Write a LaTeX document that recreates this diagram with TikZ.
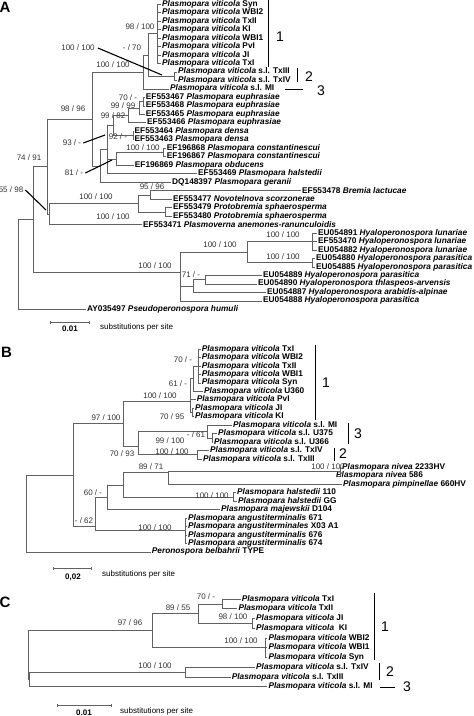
\documentclass[tikz,border=0pt]{standalone}
\usepackage{fontspec}
\setmainfont{Liberation Sans}
\definecolor{ln}{gray}{0.38}
\newcommand{\pv}{\textit{Plasmopara viticola}}
\newcommand{\pp}[1]{\textit{Plasmopara #1}}
\newcommand{\hy}[1]{\textit{Hyaloperonospora #1}}
\begin{document}
\begin{tikzpicture}[x=1pt,y=-1pt,
 br/.style={draw=ln, line width=0.6pt},
 lv/.style={draw=ln, line width=0.6pt, shorten >=1pt},
 lf/.style={anchor=west, inner sep=0pt, font=\bfseries\fontsize{8.3}{9}\selectfont},
 sup/.style={inner sep=0pt, font=\fontsize{8}{9}\selectfont, text=black!80},
 lead/.style={draw=black, line width=1.1pt},
 cl/.style={inner sep=0pt, font=\fontsize{14}{14}\selectfont},
 bar/.style={draw=black, line width=1pt},
 pl/.style={inner sep=0pt, font=\bfseries\fontsize{15}{15}\selectfont},
 sc/.style={inner sep=0pt, font=\fontsize{8}{9}\selectfont},
 scn/.style={inner sep=0pt, font=\bfseries\fontsize{8}{9}\selectfont}]
\useasboundingbox (0,0) rectangle (474,716);
\fill[white] (0,0) rectangle (474,716);

% ================= PANEL A =================
\node[pl] (PA) at (5,7.5) {A};
\node[lf] (a1) at (162,4.0) {\pv{} Syn};
\node[lf] (a2) at (162,12.5) {\pv{} WBI2};
\node[lf] (a3) at (162,21.0) {\pv{} TxII};
\node[lf] (a4) at (162,29.4) {\pv{} KI};
\node[lf] (a5) at (162,37.9) {\pv{} WBI1};
\node[lf] (a6) at (162,46.4) {\pv{} PvI};
\node[lf] (a7) at (162,54.9) {\pv{} JI};
\node[lf] (a8) at (162,63.4) {\pv{} TxI};
\node[lf] (a9) at (178,71.8) {\pv{} s.l. TxIII};
\node[lf] (a10) at (178,80.3) {\pv{} s.l. TxIV};
\node[lf] (a11) at (170,88.8) {\pv{} s.l. MI};
\node[lf] (a12) at (145.7,97.3) {EF553467 \pp{euphrasiae}};
\node[lf] (a13) at (145.7,105.8) {EF553468 \pp{euphrasiae}};
\node[lf] (a14) at (145.7,114.2) {EF553465 \pp{euphrasiae}};
\node[lf] (a15) at (147,122.7) {EF553466 \pp{euphrasiae}};
\node[lf] (a16) at (134.5,131.2) {EF553464 \pp{densa}};
\node[lf] (a17) at (134.5,139.7) {EF553463 \pp{densa}};
\node[lf] (a18) at (166.7,148.2) {EF196868 \pp{constantinescui}};
\node[lf] (a19) at (166.7,156.6) {EF196867 \pp{constantinescui}};
\node[lf] (a20) at (134.7,165.1) {EF196869 \pp{obducens}};
\node[lf] (a21) at (198,173.6) {EF553469 \pp{halstedii}};
\node[lf] (a22) at (172,182.1) {DQ148397 \pp{geranii}};
\node[lf] (a23) at (302,190.6) {EF553478 \textit{Bremia lactucae}};
\node[lf] (a24) at (173,199.0) {EF553477 \textit{Novotelnova scorzonerae}};
\node[lf] (a25) at (173,207.5) {EF553479 \textit{Protobremia sphaerosperma}};
\node[lf] (a26) at (173,216.0) {EF553480 \textit{Protobremia sphaerosperma}};
\node[lf] (a27) at (143,224.5) {EF553471 \textit{Plasmoverna anemones-ranunculoidis}};
\node[lf] (a28) at (318,233.0) {EU054891 \hy{lunariae}};
\node[lf] (a29) at (318,241.4) {EF553470 \hy{lunariae}};
\node[lf] (a30) at (318,249.9) {EU054882 \hy{lunariae}};
\node[lf] (a31) at (316,258.4) {EU054880 \hy{parasitica}};
\node[lf] (a32) at (316,266.9) {EU054885 \hy{parasitica}};
\node[lf] (a33) at (263,275.4) {EU054889 \hy{parasitica}};
\node[lf] (a34) at (258,283.8) {EU054890 \hy{thlaspeos-arvensis}};
\node[lf] (a35) at (267,292.3) {EU054887 \hy{arabidis-alpinae}};
\node[lf] (a36) at (263,300.8) {EU054888 \hy{parasitica}};
\node[lf] (a37) at (87,309.3) {AY035497 \textit{Pseudoperonospora humuli}};

\coordinate (V98) at (157,33.7);
\coordinate (V23) at (174,76.05);
\coordinate (Vm70) at (148,54.9);
\coordinate (V100) at (143,71.8);
\coordinate (e70) at (143,101.5);
\coordinate (e99) at (139,107.9);
\coordinate (e9982) at (128,115.3);
\coordinate (dens) at (133,135.4);
\coordinate (E) at (113,125.4);
\coordinate (cons) at (163,152.4);
\coordinate (F) at (116,158.8);
\coordinate (Q2) at (107,149.5);
\coordinate (Q) at (100,165.8);
\coordinate (N9896) at (92,118.8);
\coordinate (b95) at (150,194.8);
\coordinate (proto) at (165,211.8);
\coordinate (b100) at (138,203.3);
\coordinate (N55) at (49,213.9);
\coordinate (N74) at (47,166.3);
\coordinate (lun) at (312,241.4);
\coordinate (par) at (312,262.7);
\coordinate (Hsub) at (247,252);
\coordinate (h71) at (205,279.6);
\coordinate (X) at (193,286);
\coordinate (H) at (180,272);
\coordinate (N1) at (33,219.2);
\coordinate (R) at (18,264.2);

\foreach \c in {a1,a2,a3,a4,a5,a6,a7,a8} \draw[lv] (V98) |- (\c.west);
\foreach \c in {a9,a10} \draw[lv] (V23) |- (\c.west);
\draw[br] (Vm70) |- (V98); \draw[br] (Vm70) |- (V23);
\draw[br] (V100) |- (Vm70); \draw[lv] (V100) |- (a11.west);
\foreach \c in {a12,a13} \draw[lv] (e70) |- (\c.west);
\draw[br] (e99) |- (e70); \draw[lv] (e99) |- (a14.west);
\draw[br] (e9982) |- (e99); \draw[lv] (e9982) |- (a15.west);
\foreach \c in {a16,a17} \draw[lv] (dens) |- (\c.west);
\draw[br] (E) |- (e9982); \draw[br] (E) |- (dens);
\foreach \c in {a18,a19} \draw[lv] (cons) |- (\c.west);
\draw[br] (F) |- (cons); \draw[lv] (F) |- (a20.west);
\draw[br] (Q2) |- (E); \draw[br] (Q2) |- (F); \draw[lv] (Q2) |- (a21.west);
\draw[br] (Q) |- (Q2); \draw[lv] (Q) |- (a22.west);
\draw[br] (N9896) |- (V100); \draw[br] (N9896) |- (Q);
\foreach \c in {a23,a24} \draw[lv] (b95) |- (\c.west);
\foreach \c in {a25,a26} \draw[lv] (proto) |- (\c.west);
\draw[br] (b100) |- (b95); \draw[br] (b100) |- (proto);
\draw[br] (N55) |- (b100); \draw[lv] (N55) |- (a27.west);
\draw[br] (N74) |- (N9896); \draw[br] (N74) |- (N55);
\foreach \c in {a28,a29,a30} \draw[lv] (lun) |- (\c.west);
\foreach \c in {a31,a32} \draw[lv] (par) |- (\c.west);
\draw[br] (Hsub) |- (lun); \draw[br] (Hsub) |- (par);
\foreach \c in {a33,a34} \draw[lv] (h71) |- (\c.west);
\draw[br] (X) |- (h71); \draw[lv] (X) |- (a35.west);
\draw[br] (H) |- (Hsub); \draw[br] (H) |- (X); \draw[lv] (H) |- (a36.west);
\draw[br] (N1) |- (N74); \draw[br] (N1) |- (H);
\draw[br] (R) |- (N1); \draw[lv] (R) |- (a37.west);

\node[sup] (sA1) at (140,27) {98 / 100};
\node[sup] (sA2) at (132,48) {- / 70};
\node[sup] (sA3) at (78,48) {100 / 100};
\node[sup] (sA4) at (113,65) {100 / 100};
\node[sup] (sA5) at (128,98) {70 / -};
\node[sup] (sA6) at (123,106) {99 / 99};
\node[sup] (sA7) at (113,116) {99 / 82};
\node[sup] (sA8) at (73,109) {98 / 96};
\node[sup] (sA9) at (118,137) {92 / -};
\node[sup] (sA10) at (72,143) {93 / -};
\node[sup] (sA11) at (143,147.5) {100 / 100};
\node[sup] (sA12) at (29,158) {74 / 91};
\node[sup] (sA13) at (74,173) {81 / -};
\node[sup] (sA14) at (11,190) {55 / 98};
\node[sup] (sA15) at (152,187) {95 / 96};
\node[sup] (sA16) at (96,197) {100 / 100};
\node[sup] (sA17) at (113,217) {100 / 100};
\node[sup] (sA18) at (155,266) {100 / 100};
\node[sup] (sA19) at (220,245) {100 / 100};
\node[sup] (sA20) at (283,235) {100 / 100};
\node[sup] (sA21) at (283,257) {100 / 100};
\node[sup] (sA22) at (191,275) {71 / -};
\coordinate (tA3) at (162,75);
\coordinate (tA10) at (105,135);
\coordinate (tA13) at (112,160);
\coordinate (tA14) at (46,210);
\draw[lead] ([xshift=3pt]sA3.east) -- (tA3);
\draw[lead] ([xshift=2pt]sA10.east) -- (tA10);
\draw[lead] ([xshift=2pt]sA13.east) -- (tA13);
\draw[lead] ([xshift=2pt]sA14.east) -- (tA14);

\coordinate (k1a) at (268,0); \coordinate (k1b) at (268,67);
\draw[bar] (k1a) -- (k1b); \node[cl] (kA1) at (280,37) {1};
\coordinate (k2a) at (297,68); \coordinate (k2b) at (297,82);
\draw[bar] (k2a) -- (k2b); \node[cl] (kA2) at (309,77) {2};
\coordinate (k3a) at (285,89); \coordinate (k3b) at (303,89);
\draw[bar] (k3a) -- (k3b); \node[cl] (kA3) at (321,91) {3};

\coordinate (sa1) at (50,322); \coordinate (sa2) at (89,322);
\draw[br] (sa1) -- (sa2);
\draw[br] ([yshift=-1.5pt]sa1) -- ([yshift=1.5pt]sa1);
\draw[br] ([yshift=-1.5pt]sa2) -- ([yshift=1.5pt]sa2);
\node[scn] (saN) at (70,329) {0.01};
\node[sc,anchor=west] (saT) at (100,327) {substitutions per site};

% ================= PANEL B =================
\node[pl] (PB) at (6.5,352) {B};
\node[lf] (b0) at (201.7,349.0) {\pv{} TxI};
\node[lf] (b1) at (201.7,357.5) {\pv{} WBI2};
\node[lf] (b2) at (201.7,365.9) {\pv{} TxII};
\node[lf] (b3) at (201.7,374.4) {\pv{} WBI1};
\node[lf] (b4) at (201.7,382.8) {\pv{} Syn};
\node[lf] (b5) at (204,391.3) {\pv{} U360};
\node[lf] (b6) at (196.7,399.7) {\pv{} PvI};
\node[lf] (b7) at (195,408.2) {\pv{} JI};
\node[lf] (b8) at (195,416.6) {\pv{} KI};
\node[lf] (b9) at (233,425.1) {\pv{} s.l. MI};
\node[lf] (b10) at (218,433.5) {\pv{} s.l. U375};
\node[lf] (b11) at (214,442.0) {\pv{} s.l. U366};
\node[lf] (b12) at (210,450.4) {\pv{} s.l. TxIV};
\node[lf] (b13) at (203,458.9) {\pv{} s.l. TxIII};
\node[lf] (b14) at (342,467.3) {\pp{nivea} 2233HV};
\node[lf] (b15) at (336,475.8) {\pp{nivea} 586};
\node[lf] (b16) at (343,484.2) {\pp{pimpinellae} 660HV};
\node[lf] (b17) at (237,492.7) {\pp{halstedii} 110};
\node[lf] (b18) at (238,501.1) {\pp{halstedii} GG};
\node[lf] (b19) at (221,509.6) {\pp{majewskii} D104};
\node[lf] (b20) at (188,518.0) {\pp{angustiterminalis} 671};
\node[lf] (b21) at (188,526.5) {\pp{angustiterminales} X03 A1};
\node[lf] (b22) at (188,534.9) {\pp{angustiterminalis} 676};
\node[lf] (b23) at (188,543.4) {\pp{angustiterminalis} 674};
\node[lf] (b24) at (151.7,551.8) {\textit{Peronospora belbahrii} TYPE};

\coordinate (B70) at (198,365.9);
\coordinate (B61) at (193,378.6);
\coordinate (B7095) at (192,412.4);
\coordinate (B100) at (190,401);
\coordinate (Bm61) at (212,437.8);
\coordinate (B3) at (207,431.4);
\coordinate (B23) at (197,454.7);
\coordinate (B7093) at (138,446);
\coordinate (B97) at (123,423.5);
\coordinate (Bniv) at (340,471.6);
\coordinate (B89) at (168,472.5);
\coordinate (Bhal) at (233,496.9);
\coordinate (Bx) at (123,485);
\coordinate (B60) at (107,497.3);
\coordinate (Bang) at (185,530.7);
\coordinate (B62) at (95,526);
\coordinate (B73) at (73,474.8);
\coordinate (Broot) at (26,513.3);

\foreach \c in {b0,b1,b2,b3,b4} \draw[lv] (B70) |- (\c.west);
\draw[br] (B61) |- (B70); \draw[lv] (B61) |- (b5.west);
\foreach \c in {b7,b8} \draw[lv] (B7095) |- (\c.west);
\draw[br] (B100) |- (B61); \draw[lv] (B100) |- (b6.west); \draw[br] (B100) |- (B7095);
\foreach \c in {b10,b11} \draw[lv] (Bm61) |- (\c.west);
\draw[lv] (B3) |- (b9.west); \draw[br] (B3) |- (Bm61);
\foreach \c in {b12,b13} \draw[lv] (B23) |- (\c.west);
\draw[br] (B7093) |- (B3); \draw[br] (B7093) |- (B23);
\draw[br] (B97) |- (B100); \draw[br] (B97) |- (B7093);
\foreach \c in {b14,b15} \draw[lv] (Bniv) |- (\c.west);
\draw[br] (B89) |- (Bniv); \draw[lv] (B89) |- (b16.west);
\foreach \c in {b17,b18} \draw[lv] (Bhal) |- (\c.west);
\draw[br] (Bx) |- (B89); \draw[br] (Bx) |- (Bhal);
\draw[br] (B60) |- (Bx); \draw[lv] (B60) |- (b19.west);
\foreach \c in {b20,b21,b22,b23} \draw[lv] (Bang) |- (\c.west);
\draw[br] (B62) |- (B60); \draw[br] (B62) |- (Bang);
\draw[br] (B73) |- (B97); \draw[br] (B73) |- (B62);
\draw[br] (Broot) |- (B73); \draw[lv] (Broot) |- (b24.west);

\node[sup] (sB1) at (183,360) {70 / -};
\node[sup] (sB2) at (178,384) {61 / -};
\node[sup] (sB3) at (160,396) {100 / 100};
\node[sup] (sB4) at (172,417) {70 / 95};
\node[sup] (sB5) at (106,418) {97 / 100};
\node[sup] (sB6) at (196,435) {- / 61};
\node[sup] (sB7) at (170,441) {99 / 100};
\node[sup] (sB8) at (122,454) {70 / 93};
\node[sup] (sB9) at (172,452) {100 / 100};
\node[sup] (sB10) at (151,467) {89 / 71};
\node[sup] (sB11) at (328,467) {100 / 100};
\node[sup] (sB12) at (93,493) {60 / -};
\node[sup] (sB13) at (212,496) {100 / 100};
\node[sup] (sB14) at (84,521) {- / 62};
\node[sup] (sB15) at (155,528) {100 / 100};

\coordinate (k4a) at (315,345); \coordinate (k4b) at (315,420);
\draw[bar] (k4a) -- (k4b); \node[cl] (kB1) at (326,383) {1};
\coordinate (k5a) at (348,423); \coordinate (k5b) at (348,444);
\draw[bar] (k5a) -- (k5b); \node[cl] (kB3) at (358,434) {3};
\coordinate (k6a) at (334,448); \coordinate (k6b) at (334,461);
\draw[bar] (k6a) -- (k6b); \node[cl] (kB2) at (343,454) {2};

\coordinate (sb1) at (53,568); \coordinate (sb2) at (91,568);
\draw[br] (sb1) -- (sb2);
\draw[br] ([yshift=-1.5pt]sb1) -- ([yshift=1.5pt]sb1);
\draw[br] ([yshift=-1.5pt]sb2) -- ([yshift=1.5pt]sb2);
\node[scn] (sbN) at (73,577) {0,02};
\node[sc,anchor=west] (sbT) at (102,574) {substitutions per site};

% ================= PANEL C =================
\node[pl] (PC) at (5,602) {C};
\node[lf] (c0) at (241.7,599) {\pv{} TxI};
\node[lf] (c1) at (238.3,608.7) {\pv{} TxII};
\node[lf] (c2) at (256,618.5) {\pv{} JI};
\node[lf] (c3) at (256,628.2) {\pv{}\ \ KI};
\node[lf] (c4) at (268.3,638) {\pv{} WBI2};
\node[lf] (c5) at (268.3,647.7) {\pv{} WBI1};
\node[lf] (c6) at (268.3,657.4) {\pv{} Syn};
\node[lf] (c7) at (256,667.2) {\pv{} s.l. TxIV};
\node[lf] (c8) at (231.7,676.9) {\pv{} s.l. TxIII};
\node[lf] (c9) at (268.3,686.7) {\pv{} s.l. MI};

\coordinate (C70) at (222,603.9);
\coordinate (CJK) at (252,623.4);
\coordinate (C89) at (198,613.6);
\coordinate (CWBI) at (265,647.7);
\coordinate (C97) at (152,630.7);
\coordinate (C100) at (185,672);
\coordinate (CY) at (29.5,679.4);
\coordinate (Croot) at (28,655);

\foreach \c in {c0,c1} \draw[lv] (C70) |- (\c.west);
\foreach \c in {c2,c3} \draw[lv] (CJK) |- (\c.west);
\draw[br] (C89) |- (C70); \draw[br] (C89) |- (CJK);
\foreach \c in {c4,c5,c6} \draw[lv] (CWBI) |- (\c.west);
\draw[br] (C97) |- (C89); \draw[br] (C97) |- (CWBI);
\foreach \c in {c7,c8} \draw[lv] (C100) |- (\c.west);
\draw[br] (CY) |- (C100); \draw[lv] (CY) |- (c9.west);
\draw[br] (Croot) |- (C97); \draw[br] (Croot) |- (CY);

\node[sup] (sC1) at (206,597) {70 / -};
\node[sup] (sC2) at (178,608) {89 / 55};
\node[sup] (sC3) at (130,623) {97 / 96};
\node[sup] (sC4) at (233,617) {98 / 100};
\node[sup] (sC5) at (241,641) {100 / 100};
\node[sup] (sC6) at (155,666) {100 / 100};

\coordinate (k7a) at (374,593); \coordinate (k7b) at (374,660);
\draw[bar] (k7a) -- (k7b); \node[cl] (kC1) at (385,627) {1};
\coordinate (k8a) at (379,663); \coordinate (k8b) at (379,680);
\draw[bar] (k8a) -- (k8b); \node[cl] (kC2) at (390,672) {2};
\coordinate (k9a) at (380,687); \coordinate (k9b) at (395,687);
\draw[bar] (k9a) -- (k9b); \node[cl] (kC3) at (407,687) {3};

\coordinate (sc1) at (57,705); \coordinate (sc2) at (111,705);
\draw[br] (sc1) -- (sc2);
\draw[br] ([yshift=-1.5pt]sc1) -- ([yshift=1.5pt]sc1);
\draw[br] ([yshift=-1.5pt]sc2) -- ([yshift=1.5pt]sc2);
\node[scn] (scN) at (84,713) {0.01};
\node[sc,anchor=west] (scT) at (120,711) {substitutions per site};
\end{tikzpicture}
\end{document}
